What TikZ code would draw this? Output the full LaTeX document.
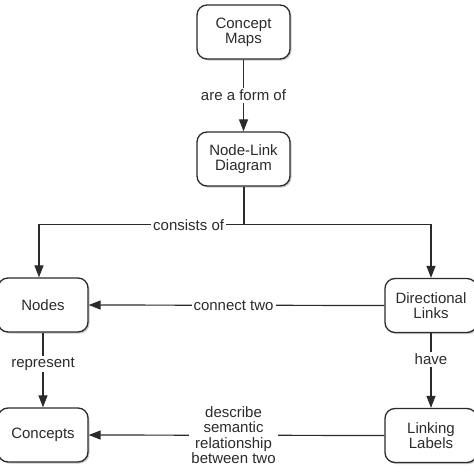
\documentclass[tikz,border=0pt]{standalone}
\usepackage{fontspec}
\setmainfont{Liberation Sans}
\usetikzlibrary{arrows.meta,shadows,calc}
\definecolor{ink}{HTML}{2B2B2B}
\begin{document}
\begin{tikzpicture}[x=1pt,y=-1pt,
  concept/.style={draw=ink,line width=1.3pt,rounded corners=10pt,fill=white,
    minimum height=54pt,inner sep=2pt,align=center,text=ink,
    font=\fontsize{15}{15}\selectfont,
    drop shadow={shadow xshift=1.5pt,shadow yshift=-1.5pt,opacity=0.35,fill=black!60}},
  link/.style={draw=ink,line width=1.2pt,-{Triangle[length=12pt,width=9pt]}},
  lbl/.style={fill=white,inner sep=2pt,text=ink,align=center,
    font=\fontsize{15}{15.5}\selectfont}]
\useasboundingbox (0,0) rectangle (474,474);
\node[concept,minimum width=93pt] (cm) at (243.5,32) {Concept\\Maps};
\node[concept,minimum width=93pt] (nld) at (243.5,159) {Node-Link\\Diagram};
\node[concept,minimum width=90pt] (nodes) at (43,305) {Nodes};
\node[concept,minimum width=92pt] (dl) at (431,305.5) {Directional\\Links};
\node[concept,minimum width=90pt] (conc) at (43,435) {Concepts};
\node[concept,minimum width=92pt] (ll) at (431,435.5) {Linking\\Labels};
% edges
\draw[link] (cm.south) -- node[lbl] {are a form of} (nld.north);
\coordinate (j) at ($(nld.south)+(0.5,38)$);
\coordinate (nl) at ($(nodes.north)+(-4,0)$);
\draw[link] (nld.south -| j) -- (j) -- node[lbl,pos=0.27] {consists of} (j -| nl) -- (nl);
\draw[link] (j) -| (dl.north);
\draw[link] (dl.west) -- node[lbl,pos=0.51] {connect two} (nodes.east);
\draw[link] (nodes.south) -- node[lbl,pos=0.42] {represent} (conc.north);
\draw[link] (dl.south) -- node[lbl,pos=0.35] {have} (ll.north);
\draw[link] (ll.west) -- node[lbl,pos=0.51] {describe\\semantic\\relationship\\between two} (conc.east);
\end{tikzpicture}
\end{document}
